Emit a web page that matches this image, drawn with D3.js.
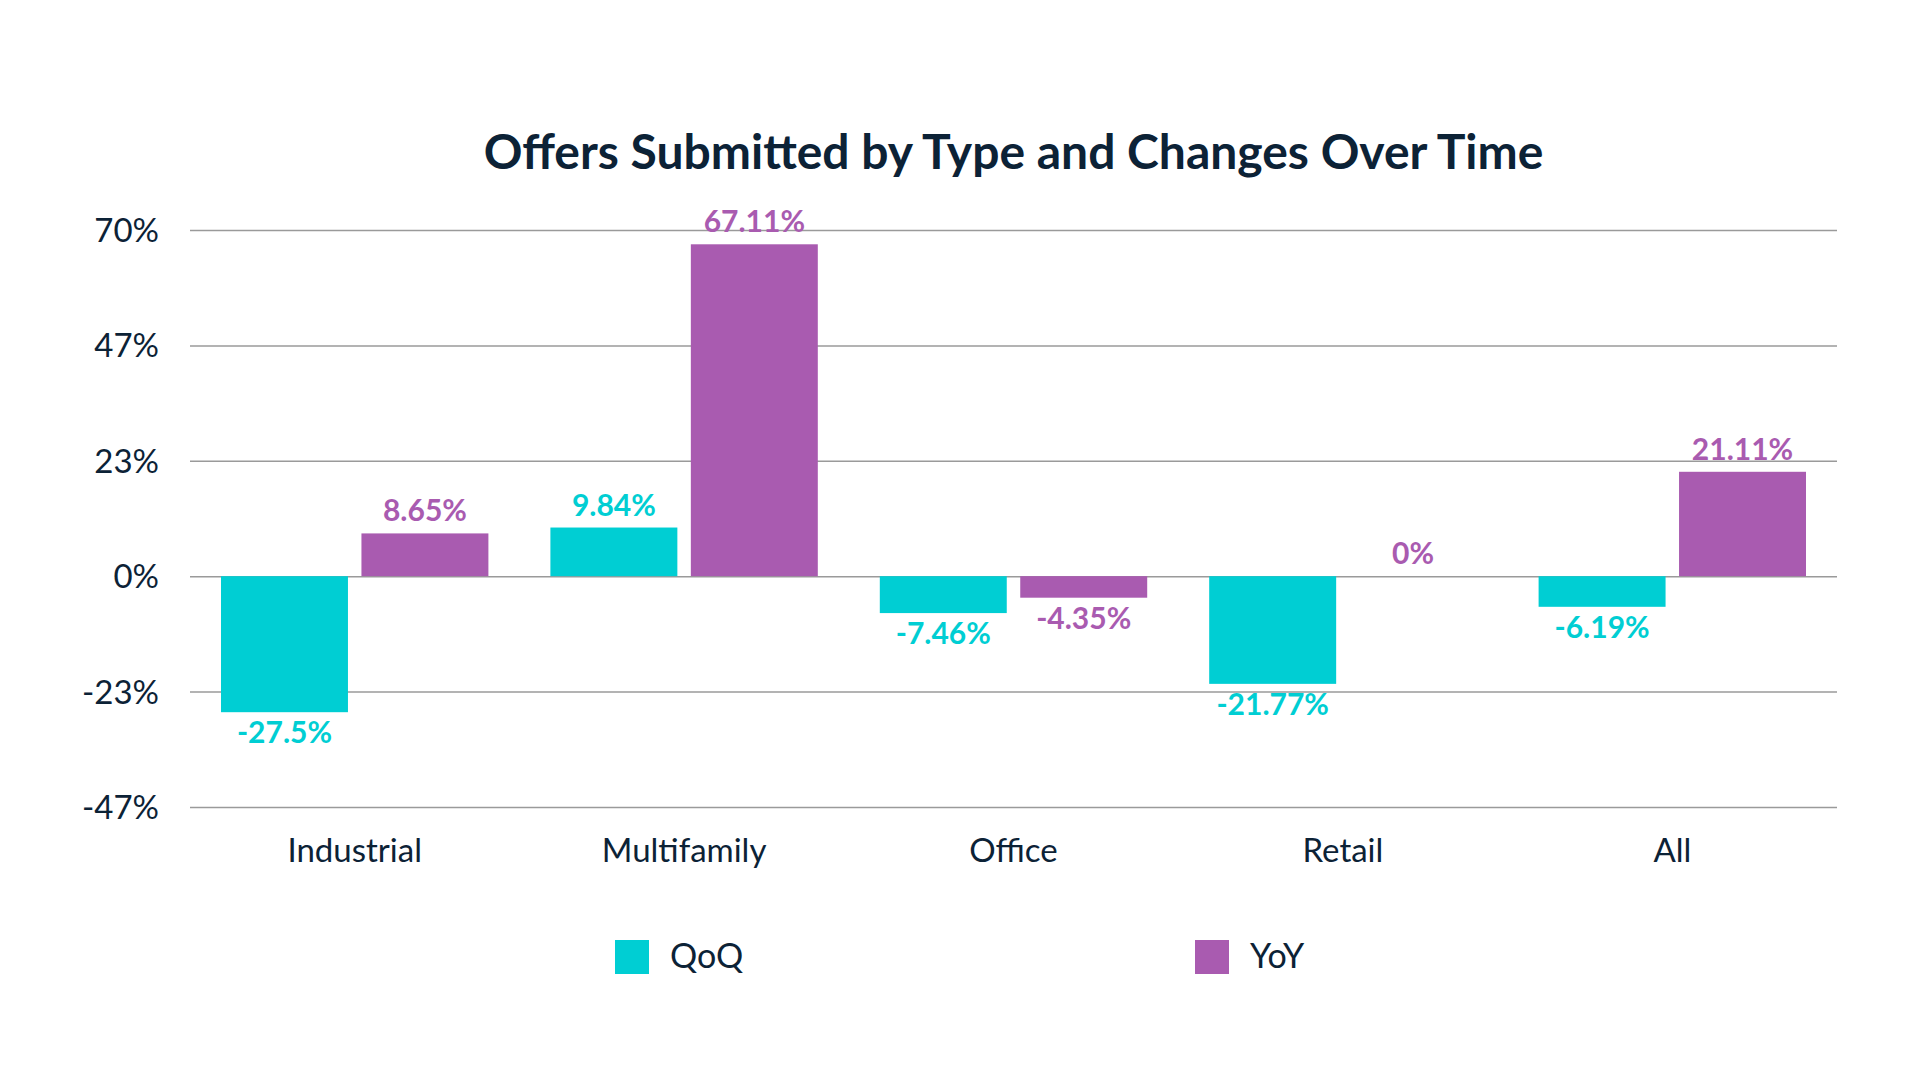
<!DOCTYPE html>
<html>
<head>
<meta charset="utf-8">
<script src="https://cdn.jsdelivr.net/npm/d3@7"></script>
<style>
  html, body { margin: 0; padding: 0; background: #ffffff; }
  svg { display: block; }
  text { font-family: Lato, "Open Sans", sans-serif; }
</style>
</head>
<body>
<svg id="chart" width="1920" height="1080"></svg>
<script>
const title = "Offers Submitted by Type and Changes Over Time";
const categories = ["Industrial", "Multifamily", "Office", "Retail", "All"];
const seriesNames = ["QoQ", "YoY"];
const qoqValues = [-27.5, 9.84, -7.46, -21.77, -6.19];
const yoyValues = [8.65, 67.11, -4.35, 0, 21.11];
const tickValues = [-46.67, -23.33, 0, 23.33, 46.67, 70];
const tickLabels = ["-47%", "-23%", "0%", "23%", "47%", "70%"];
const colors = ["#00CED3", "#A95BB0"];

const svg = d3.select("#chart");
const W = 1920, H = 1080;
const margin = { left: 190, right: 83, top: 230, bottom: 273 };
const plotW = W - margin.left - margin.right;

const x0 = d3.scaleBand().domain(categories)
  .range([margin.left, W - margin.right]).paddingInner(0).paddingOuter(0);
const x1 = d3.scaleBand().domain(seriesNames)
  .range([31, x0.bandwidth() - 31]).paddingInner(0.096);
const y = d3.scaleLinear().domain([-46.67, 70]).range([H - margin.bottom, margin.top]);

const textColor = "#0C2236";

// Title
svg.append("text")
  .attr("x", margin.left + plotW / 2).attr("y", 169)
  .attr("text-anchor", "middle")
  .attr("font-size", 48).attr("font-weight", 700)
  .attr("fill", textColor)
  .text(title);

// Gridlines + y labels via axis
const yAxis = d3.axisLeft(y).tickValues(tickValues)
  .tickSize(-plotW).tickFormat((d, i) => tickLabels[i]).tickPadding(31);
const gy = svg.append("g").attr("transform", `translate(${margin.left},0)`).call(yAxis);
gy.select(".domain").remove();
gy.selectAll(".tick line").attr("stroke", "#9a9a9a").attr("stroke-width", 1.5);
gy.selectAll(".tick text").attr("font-size", 33).attr("fill", textColor)
  .attr("font-family", "Lato, sans-serif").attr("dy", "0.35em");

// X axis labels
const xAxis = d3.axisBottom(x0).tickSize(0).tickPadding(0);
const gx = svg.append("g").attr("transform", `translate(0,${y(-46.67) + 32})`).call(xAxis);
gx.select(".domain").remove();
gx.selectAll(".tick text").attr("font-size", 33).attr("fill", textColor)
  .attr("font-family", "Lato, sans-serif").attr("dy", "0.71em");

// Bars
const rows = categories.map((c, i) => ({ cat: c, vals: [qoqValues[i], yoyValues[i]] }));
const groups = svg.append("g").selectAll("g").data(rows).join("g")
  .attr("transform", d => `translate(${x0(d.cat)},0)`);

groups.selectAll("rect").data(d => d.vals.map((v, j) => ({ key: seriesNames[j], v, j })))
  .join("rect")
  .attr("x", d => x1(d.key))
  .attr("width", x1.bandwidth())
  .attr("y", d => y(Math.max(0, d.v)))
  .attr("height", d => Math.abs(y(d.v) - y(0)))
  .attr("fill", d => colors[d.j]);

groups.selectAll("text.val").data(d => d.vals.map((v, j) => ({ key: seriesNames[j], v, j })))
  .join("text").attr("class", "val")
  .attr("x", d => x1(d.key) + x1.bandwidth() / 2)
  .attr("y", d => d.v >= 0 ? y(d.v) - 12 : y(d.v) + 31)
  .attr("text-anchor", "middle")
  .attr("font-size", 30).attr("font-weight", 700)
  .attr("fill", d => colors[d.j])
  .text(d => d.v + "%");

// Legend
const legendX = [615, 1195];
const lg = svg.append("g").selectAll("g").data(seriesNames).join("g")
  .attr("transform", (d, i) => `translate(${legendX[i]},940)`);
lg.append("rect").attr("width", 34).attr("height", 34).attr("fill", (d, i) => colors[i]);
lg.append("text").attr("x", 55).attr("y", 28).attr("font-size", 34)
  .attr("fill", textColor).text(d => d);
</script>
</body>
</html>
